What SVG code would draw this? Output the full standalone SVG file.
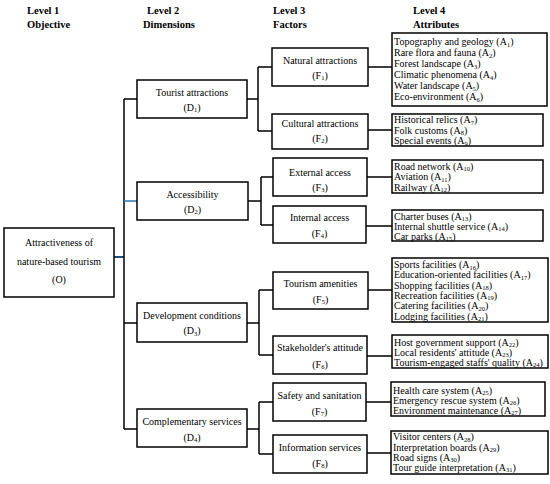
<svg xmlns="http://www.w3.org/2000/svg" width="550" height="484" viewBox="0 0 550 484">
<style>
.hd{font-family:"Liberation Serif",serif;font-weight:bold;font-size:10.5px;fill:#000}
.t{font-family:"Liberation Serif",serif;font-size:10px;fill:#000}
.c{text-anchor:middle}
.box{fill:#fff;stroke:#000;stroke-width:1.5}
.ln{fill:none;stroke:#000;stroke-width:1.5}
.s{font-size:6.5px}
</style>
<rect width="550" height="484" fill="#fff"/>
<g id="headers">
<text class="hd" x="27" y="14">Level 1</text><text class="hd" x="27" y="28">Objective</text>
<text class="hd" x="147" y="14">Level 2</text><text class="hd" x="143" y="28">Dimensions</text>
<text class="hd" x="273" y="14">Level 3</text><text class="hd" x="273" y="28">Factors</text>
<text class="hd" x="413" y="14">Level 4</text><text class="hd" x="413" y="28">Attributes</text>
</g>
<g id="connectors">
<line x1="114" y1="257" x2="124" y2="257" stroke="#1f4e79" stroke-width="2"/>
<path class="ln" d="M124,99 V429 M124,99 H137 M124,323 H137 M124,429 H137"/>
<line x1="124" y1="201" x2="137" y2="201" stroke="#2e75b6" stroke-width="1.5"/>
<path class="ln" d="M247,99 H258 M258,67 V131 M258,67 H272 M258,131 H272"/>
<path class="ln" d="M248,201 H261 M261,177 V225 M261,177 H273 M261,225 H273"/>
<path class="ln" d="M247,323 H259 M259,290 V355 M259,290 H273 M259,355 H273"/>
<path class="ln" d="M247,429 H259 M259,402 V454 M259,402 H273 M259,454 H273"/>
<path class="ln" d="M368,67 H392 M368,130 H392 M367,177 H392 M366,226 H392 M368,290 H392 M367,356 H392 M366,402 H391 M367,453 H391"/>
</g>
<g id="O">
<rect class="box" x="4" y="228" width="110" height="69"/>
<text class="t c" x="59" y="246">Attractiveness of</text>
<text class="t c" x="59" y="265">nature-based tourism</text>
<text class="t c" x="59" y="283">(O)</text>
</g>
<g id="D1">
<rect class="box" x="137" y="80" width="110" height="38"/>
<text class="t c" x="192" y="95.5">Tourist attractions</text>
<text class="t c" x="192" y="110.5">(D<tspan class="s" dy="1.5">1</tspan><tspan dy="-1.5">)</tspan></text>
</g>
<g id="D2">
<rect class="box" x="137" y="182" width="111" height="38"/>
<text class="t c" x="192.5" y="197.5">Accessibility</text>
<text class="t c" x="192.5" y="212.5">(D<tspan class="s" dy="1.5">2</tspan><tspan dy="-1.5">)</tspan></text>
</g>
<g id="D3">
<rect class="box" x="137" y="303" width="110" height="39"/>
<text class="t c" x="192" y="318.5">Development conditions</text>
<text class="t c" x="192" y="334">(D<tspan class="s" dy="1.5">3</tspan><tspan dy="-1.5">)</tspan></text>
</g>
<g id="D4">
<rect class="box" x="137" y="409" width="110" height="38"/>
<text class="t c" x="192" y="425">Complementary services</text>
<text class="t c" x="192" y="440.5">(D<tspan class="s" dy="1.5">4</tspan><tspan dy="-1.5">)</tspan></text>
</g>
<g id="F1">
<rect class="box" x="272" y="48" width="96" height="38"/>
<text class="t c" x="320" y="63.5">Natural attractions</text>
<text class="t c" x="320" y="78.5">(F<tspan class="s" dy="1.5">1</tspan><tspan dy="-1.5">)</tspan></text>
</g>
<g id="F2">
<rect class="box" x="272" y="114" width="96" height="35"/>
<text class="t c" x="320" y="127">Cultural attractions</text>
<text class="t c" x="320" y="141.5">(F<tspan class="s" dy="1.5">2</tspan><tspan dy="-1.5">)</tspan></text>
</g>
<g id="F3">
<rect class="box" x="273" y="158" width="94" height="38"/>
<text class="t c" x="320" y="175.5">External access</text>
<text class="t c" x="320" y="190.5">(F<tspan class="s" dy="1.5">3</tspan><tspan dy="-1.5">)</tspan></text>
</g>
<g id="F4">
<rect class="box" x="273" y="206" width="93" height="37"/>
<text class="t c" x="319.5" y="220.5">Internal access</text>
<text class="t c" x="319.5" y="236.5">(F<tspan class="s" dy="1.5">4</tspan><tspan dy="-1.5">)</tspan></text>
</g>
<g id="F5">
<rect class="box" x="273" y="272" width="95" height="37"/>
<text class="t c" x="320.5" y="286.5">Tourism amenities</text>
<text class="t c" x="320.5" y="302.5">(F<tspan class="s" dy="1.5">5</tspan><tspan dy="-1.5">)</tspan></text>
</g>
<g id="F6">
<rect class="box" x="273" y="336" width="94" height="38"/>
<text class="t c" x="320" y="350.5">Stakeholder's attitude</text>
<text class="t c" x="320" y="367.5">(F<tspan class="s" dy="1.5">6</tspan><tspan dy="-1.5">)</tspan></text>
</g>
<g id="F7">
<rect class="box" x="273" y="383" width="93" height="38"/>
<text class="t c" x="319.5" y="398.5">Safety and sanitation</text>
<text class="t c" x="319.5" y="414.5">(F<tspan class="s" dy="1.5">7</tspan><tspan dy="-1.5">)</tspan></text>
</g>
<g id="F8">
<rect class="box" x="273" y="435" width="94" height="38"/>
<text class="t c" x="320" y="450.5">Information services</text>
<text class="t c" x="320" y="466.5">(F<tspan class="s" dy="1.5">8</tspan><tspan dy="-1.5">)</tspan></text>
</g>
<g id="A1-6">
<rect class="box" x="392" y="33" width="155" height="73"/>
<text class="t" x="394" y="45">Topography and geology (A<tspan class="s" dy="1.5">1</tspan><tspan dy="-1.5">)</tspan></text>
<text class="t" x="394" y="56">Rare flora and fauna (A<tspan class="s" dy="1.5">2</tspan><tspan dy="-1.5">)</tspan></text>
<text class="t" x="394" y="67">Forest landscape (A<tspan class="s" dy="1.5">3</tspan><tspan dy="-1.5">)</tspan></text>
<text class="t" x="394" y="78">Climatic phenomena (A<tspan class="s" dy="1.5">4</tspan><tspan dy="-1.5">)</tspan></text>
<text class="t" x="394" y="89">Water landscape (A<tspan class="s" dy="1.5">5</tspan><tspan dy="-1.5">)</tspan></text>
<text class="t" x="394" y="100">Eco-environment (A<tspan class="s" dy="1.5">6</tspan><tspan dy="-1.5">)</tspan></text>
</g>
<g id="A7-9">
<rect class="box" x="392" y="114" width="151" height="32"/>
<text class="t" x="394" y="123">Historical relics (A<tspan class="s" dy="1.5">7</tspan><tspan dy="-1.5">)</tspan></text>
<text class="t" x="394" y="133.5">Folk customs (A<tspan class="s" dy="1.5">8</tspan><tspan dy="-1.5">)</tspan></text>
<text class="t" x="394" y="144">Special events (A<tspan class="s" dy="1.5">9</tspan><tspan dy="-1.5">)</tspan></text>
</g>
<g id="A10-12">
<rect class="box" x="392" y="160" width="151" height="33"/>
<text class="t" x="394" y="169.5">Road network (A<tspan class="s" dy="1.5">10</tspan><tspan dy="-1.5">)</tspan></text>
<text class="t" x="394" y="180">Aviation (A<tspan class="s" dy="1.5">11</tspan><tspan dy="-1.5">)</tspan></text>
<text class="t" x="394" y="190.5">Railway (A<tspan class="s" dy="1.5">12</tspan><tspan dy="-1.5">)</tspan></text>
</g>
<g id="A13-15">
<rect class="box" x="392" y="210" width="151" height="31"/>
<text class="t" x="394" y="219.5">Charter buses (A<tspan class="s" dy="1.5">13</tspan><tspan dy="-1.5">)</tspan></text>
<text class="t" x="394" y="229.5">Internal shuttle service (A<tspan class="s" dy="1.5">14</tspan><tspan dy="-1.5">)</tspan></text>
<text class="t" x="394" y="239.5">Car parks (A<tspan class="s" dy="1.5">15</tspan><tspan dy="-1.5">)</tspan></text>
</g>
<g id="A16-21">
<rect class="box" x="392" y="258" width="156" height="64"/>
<text class="t" x="394" y="268">Sports facilities (A<tspan class="s" dy="1.5">16</tspan><tspan dy="-1.5">)</tspan></text>
<text class="t" x="394" y="278.3">Education-oriented facilities (A<tspan class="s" dy="1.5">17</tspan><tspan dy="-1.5">)</tspan></text>
<text class="t" x="394" y="288.6">Shopping facilities (A<tspan class="s" dy="1.5">18</tspan><tspan dy="-1.5">)</tspan></text>
<text class="t" x="394" y="298.9">Recreation facilities (A<tspan class="s" dy="1.5">19</tspan><tspan dy="-1.5">)</tspan></text>
<text class="t" x="394" y="309.2">Catering facilities (A<tspan class="s" dy="1.5">20</tspan><tspan dy="-1.5">)</tspan></text>
<text class="t" x="394" y="319.5">Lodging facilities (A<tspan class="s" dy="1.5">21</tspan><tspan dy="-1.5">)</tspan></text>
</g>
<g id="A22-24">
<rect class="box" x="392" y="335" width="156" height="33"/>
<text class="t" x="394" y="345.5">Host government support (A<tspan class="s" dy="1.5">22</tspan><tspan dy="-1.5">)</tspan></text>
<text class="t" x="394" y="355.5">Local residents' attitude (A<tspan class="s" dy="1.5">23</tspan><tspan dy="-1.5">)</tspan></text>
<text class="t" x="394" y="365.5">Tourism-engaged staffs' quality (A<tspan class="s" dy="1.5">24</tspan><tspan dy="-1.5">)</tspan></text>
</g>
<g id="A25-27">
<rect class="box" x="391" y="382" width="154" height="34"/>
<text class="t" x="393" y="393.5">Health care system (A<tspan class="s" dy="1.5">25</tspan><tspan dy="-1.5">)</tspan></text>
<text class="t" x="393" y="403.5">Emergency rescue system (A<tspan class="s" dy="1.5">26</tspan><tspan dy="-1.5">)</tspan></text>
<text class="t" x="393" y="413.5">Environment maintenance (A<tspan class="s" dy="1.5">27</tspan><tspan dy="-1.5">)</tspan></text>
</g>
<g id="A28-31">
<rect class="box" x="391" y="431" width="157" height="43"/>
<text class="t" x="393" y="440">Visitor centers (A<tspan class="s" dy="1.5">28</tspan><tspan dy="-1.5">)</tspan></text>
<text class="t" x="393" y="450.5">Interpretation boards (A<tspan class="s" dy="1.5">29</tspan><tspan dy="-1.5">)</tspan></text>
<text class="t" x="393" y="460.5">Road signs (A<tspan class="s" dy="1.5">30</tspan><tspan dy="-1.5">)</tspan></text>
<text class="t" x="393" y="470.5">Tour guide interpretation (A<tspan class="s" dy="1.5">31</tspan><tspan dy="-1.5">)</tspan></text>
</g>
</svg>
